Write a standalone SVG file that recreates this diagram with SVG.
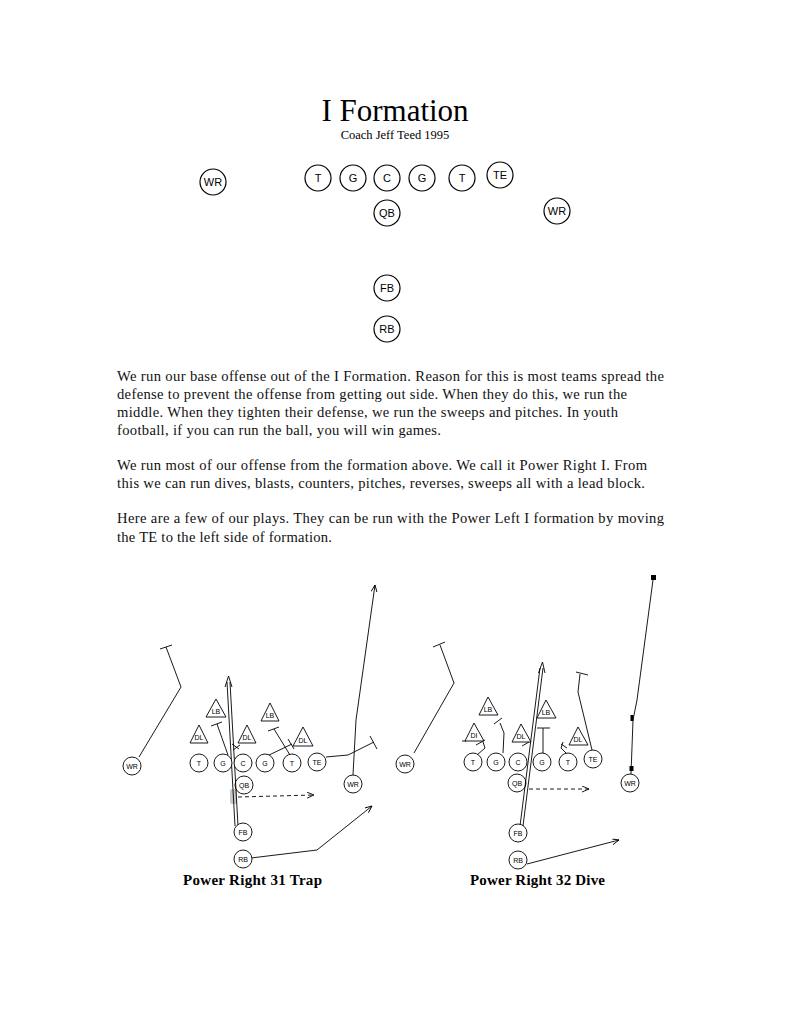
<svg xmlns="http://www.w3.org/2000/svg" width="791" height="1023" viewBox="0 0 791 1023">
<style>
.bg{fill:#fff}
.title{font-family:"Liberation Serif","Times New Roman",serif;fill:#000}
.para{font-family:"Liberation Serif","Times New Roman",serif;font-size:14.6px;fill:#111}
.cap{font-family:"Liberation Serif","Times New Roman",serif;font-size:15px;font-weight:bold;fill:#000}
.pc{fill:#fff;stroke:#000;stroke-width:1.2}
.pl{font-family:"Liberation Sans",Arial,sans-serif;font-size:11px;fill:#000;text-anchor:middle}
.sc{fill:#fff;stroke:#000;stroke-width:0.9}
.sl{font-family:"Liberation Sans",Arial,sans-serif;font-size:7px;fill:#000;text-anchor:middle}
.tri{fill:#fff;stroke:#000;stroke-width:0.9}
.ln{fill:none;stroke:#000;stroke-width:0.9}
.dash{fill:none;stroke:#000;stroke-width:0.9;stroke-dasharray:4 3}
</style>
<defs>
<marker id="arr" markerWidth="8" markerHeight="8" refX="7" refY="3" orient="auto" markerUnits="userSpaceOnUse">
<path d="M0,0 L7,3 L0,6" fill="none" stroke="#000" stroke-width="0.9"/>
</marker>
</defs>
<rect class="bg" x="0" y="0" width="791" height="1023"/>

<text class="title" x="395" y="121" font-family="Liberation Serif, Times New Roman, serif" font-size="31" text-anchor="middle">I Formation</text>
<text class="title" x="395" y="139" font-family="Liberation Serif, Times New Roman, serif" font-size="12.5" text-anchor="middle">Coach Jeff Teed 1995</text>

<g id="top-formation">
<g id="top-wr-left"><circle class="pc" cx="213" cy="182" r="13"/><text class="pl" x="213" y="186" font-size="10">WR</text></g>
<g id="top-t-left"><circle class="pc" cx="318" cy="178" r="13"/><text class="pl" x="318" y="182">T</text></g>
<g id="top-g-left"><circle class="pc" cx="353" cy="178" r="13"/><text class="pl" x="353" y="182">G</text></g>
<g id="top-c"><circle class="pc" cx="387" cy="178" r="13"/><text class="pl" x="387" y="182">C</text></g>
<g id="top-g-right"><circle class="pc" cx="422" cy="178" r="13"/><text class="pl" x="422" y="182">G</text></g>
<g id="top-t-right"><circle class="pc" cx="462" cy="178" r="13"/><text class="pl" x="462" y="182">T</text></g>
<g id="top-te"><circle class="pc" cx="500" cy="175" r="13"/><text class="pl" x="500" y="179">TE</text></g>
<g id="top-qb"><circle class="pc" cx="387" cy="213" r="13"/><text class="pl" x="387" y="217" font-size="10">QB</text></g>
<g id="top-wr-right"><circle class="pc" cx="557" cy="211" r="13"/><text class="pl" x="557" y="215" font-size="10">WR</text></g>
<g id="top-fb"><circle class="pc" cx="387" cy="288" r="13"/><text class="pl" x="387" y="292" font-size="10">FB</text></g>
<g id="top-rb"><circle class="pc" cx="387" cy="329" r="13"/><text class="pl" x="387" y="333" font-size="10">RB</text></g>
</g>

<g id="paragraphs">
<text class="para" x="117" y="381" textLength="547" lengthAdjust="spacing">We run our base offense out of the I Formation. Reason for this is most teams spread the</text>
<text class="para" x="117" y="399" textLength="510" lengthAdjust="spacing">defense to prevent the offense from getting out side. When they do this, we run the</text>
<text class="para" x="117" y="417" textLength="501" lengthAdjust="spacing">middle. When they tighten their defense, we run the sweeps and pitches. In youth</text>
<text class="para" x="117" y="435" textLength="324" lengthAdjust="spacing">football, if you can run the ball, you will win games.</text>
<text class="para" x="117" y="470" textLength="530" lengthAdjust="spacing">We run most of our offense from the formation above. We call it Power Right I. From</text>
<text class="para" x="117" y="488" textLength="528" lengthAdjust="spacing">this we can run dives, blasts, counters, pitches, reverses, sweeps all with a lead block.</text>
<text class="para" x="117" y="523" textLength="547" lengthAdjust="spacing">Here are a few of our plays. They can be run with the Power Left I formation by moving</text>
<text class="para" x="117" y="542" textLength="215" lengthAdjust="spacing">the TE to the left side of formation.</text>
</g>

<!-- PLAY 1 connectors -->
<g id="play1-connectors">
<polyline class="ln" points="139,757 181,687 166,647"/>
<line class="ln" x1="160" y1="649" x2="172" y2="645"/>
<polyline class="ln" points="228,755 217,724"/>
<line class="ln" x1="211" y1="726" x2="222" y2="722"/>
<line class="ln" x1="232" y1="744" x2="239" y2="749"/>
<line class="ln" x1="233" y1="750" x2="240" y2="745"/>
<polyline class="ln" points="267,756 292,744"/>
<line class="ln" x1="288" y1="739" x2="294" y2="749"/>
<polyline class="ln" points="290,755 274,729"/>
<line class="ln" x1="268" y1="731" x2="279" y2="727"/>
<polyline class="ln" points="326,757 348,755 374,742"/>
<line class="ln" x1="370" y1="736" x2="377" y2="749"/>
<polyline class="ln" points="353,775 356,720 375,585" marker-end="url(#arr)"/>
<rect x="230" y="789" width="7" height="15" rx="2" fill="#c8c8c8"/>
<line class="ln" x1="235" y1="826" x2="227" y2="682"/>
<line class="ln" x1="238" y1="826" x2="230" y2="682"/>
<path class="ln" d="M225,687 L228.5,676 L232,687"/>
<line class="dash" x1="238" y1="797" x2="314" y2="795" marker-end="url(#arr)"/>
<polyline class="ln" points="251,858 317,850 372,806" marker-end="url(#arr)"/>
</g>

<g id="play1-defense">
<g id="p1-lb-left"><polygon class="tri" points="216,699 206,717 226,717"/><text class="sl" x="216" y="714">LB</text></g>
<g id="p1-dl-left"><polygon class="tri" points="199,725 190,743 208,743"/><text class="sl" x="199" y="740">DL</text></g>
<g id="p1-dl-mid"><polygon class="tri" points="247,725 238,743 256,743"/><text class="sl" x="247" y="740">DL</text></g>
<g id="p1-lb-right"><polygon class="tri" points="270,703 261,721 279,721"/><text class="sl" x="270" y="718">LB</text></g>
<g id="p1-dl-right"><polygon class="tri" points="303,727 293,746 313,746"/><text class="sl" x="303" y="743">DL</text></g>
</g>

<g id="play1-offense">
<g id="p1-wr-left"><circle class="sc" cx="132" cy="766" r="9"/><text class="sl" x="132" y="768.5">WR</text></g>
<g id="p1-t-left"><circle class="sc" cx="199" cy="763" r="9"/><text class="sl" x="199" y="765.5">T</text></g>
<g id="p1-g-left"><circle class="sc" cx="223" cy="763" r="9"/><text class="sl" x="223" y="765.5">G</text></g>
<g id="p1-c"><circle class="sc" cx="243" cy="763" r="9"/><text class="sl" x="243" y="765.5">C</text></g>
<g id="p1-g-right"><circle class="sc" cx="265" cy="763" r="9"/><text class="sl" x="265" y="765.5">G</text></g>
<g id="p1-t-right"><circle class="sc" cx="292" cy="763" r="9"/><text class="sl" x="292" y="765.5">T</text></g>
<g id="p1-te"><circle class="sc" cx="317" cy="762" r="9"/><text class="sl" x="317" y="764.5">TE</text></g>
<g id="p1-qb"><circle class="sc" cx="244" cy="785" r="9" fill-opacity="0"/><text class="sl" x="244" y="787.5">QB</text></g>
<g id="p1-wr-right"><circle class="sc" cx="353" cy="784" r="9"/><text class="sl" x="353" y="786.5">WR</text></g>
<g id="p1-fb"><circle class="sc" cx="243" cy="832" r="9"/><text class="sl" x="243" y="834.5">FB</text></g>
<g id="p1-rb"><circle class="sc" cx="243" cy="859" r="9"/><text class="sl" x="243" y="861.5">RB</text></g>
</g>
<text class="cap" x="183" y="885" textLength="139" lengthAdjust="spacing">Power Right 31 Trap</text>

<!-- PLAY 2 connectors -->
<g id="play2-connectors">
<polyline class="ln" points="414,753 454,683 440,645"/>
<line class="ln" x1="433" y1="647" x2="445" y2="642"/>
<polyline class="ln" points="477,755 485,748 483,742"/>
<line class="ln" x1="476" y1="745" x2="485" y2="740"/>
<polyline class="ln" points="503,753 504,733 500,723"/>
<line class="ln" x1="494" y1="724" x2="502" y2="718"/>
<line class="ln" x1="522" y1="746" x2="529" y2="742"/>
<line class="ln" x1="543" y1="753" x2="543" y2="728"/>
<line class="ln" x1="537" y1="728" x2="550" y2="728"/>
<polyline class="ln" points="566,753 561,748 563,742"/>
<line class="ln" x1="561" y1="744" x2="567" y2="748"/>
<polyline class="ln" points="592,750 578,692 580,674"/>
<line class="ln" x1="576" y1="672" x2="588" y2="675"/>
<polyline class="ln" points="631,774 633,720 637,700 653,580"/>
<rect x="629.5" y="766" width="4" height="5" fill="#000"/>
<rect x="630.5" y="715" width="3" height="6" fill="#000"/>
<rect x="651" y="575" width="5" height="5" fill="#000"/>
<line class="ln" x1="520" y1="826" x2="540" y2="668"/>
<line class="ln" x1="523" y1="826" x2="543" y2="668"/>
<path class="ln" d="M538.5,673 L542.5,662 L545,673"/>
<line class="dash" x1="529" y1="789" x2="589" y2="789" marker-end="url(#arr)"/>
<line class="ln" x1="527" y1="864" x2="619" y2="840" marker-end="url(#arr)"/>
</g>

<g id="play2-defense">
<g id="p2-lb-left"><polygon class="tri" points="488,697 479,715 498,715"/><text class="sl" x="488" y="712">LB</text></g>
<g id="p2-dl-left"><polygon class="tri" points="474,723 465,741 484,741"/><line class="ln" x1="462" y1="741" x2="466" y2="741"/><text class="sl" x="474" y="738">DI</text></g>
<g id="p2-dl-mid"><polygon class="tri" points="521,724 512,742 531,742"/><text class="sl" x="521" y="739">DL</text></g>
<g id="p2-lb-right"><polygon class="tri" points="546,700 537,718 556,718"/><text class="sl" x="546" y="715">LB</text></g>
<g id="p2-dl-right"><polygon class="tri" points="578,727 569,745 588,745"/><text class="sl" x="578" y="742">DL</text></g>
</g>

<g id="play2-offense">
<g id="p2-wr-left"><circle class="sc" cx="405" cy="764" r="9"/><text class="sl" x="405" y="766.5">WR</text></g>
<g id="p2-t-left"><circle class="sc" cx="473" cy="762" r="9"/><text class="sl" x="473" y="764.5">T</text></g>
<g id="p2-g-left"><circle class="sc" cx="496" cy="762" r="9"/><text class="sl" x="496" y="764.5">G</text></g>
<g id="p2-c"><circle class="sc" cx="518" cy="762" r="9"/><text class="sl" x="518" y="764.5">C</text></g>
<g id="p2-g-right"><circle class="sc" cx="542" cy="762" r="9"/><text class="sl" x="542" y="764.5">G</text></g>
<g id="p2-t-right"><circle class="sc" cx="568" cy="762" r="9"/><text class="sl" x="568" y="764.5">T</text></g>
<g id="p2-te"><circle class="sc" cx="593" cy="759" r="9"/><text class="sl" x="593" y="761.5">TE</text></g>
<g id="p2-qb"><circle class="sc" cx="517" cy="783" r="9" fill-opacity="0"/><text class="sl" x="517" y="785.5">QB</text></g>
<g id="p2-wr-right"><circle class="sc" cx="630" cy="783" r="9"/><text class="sl" x="630" y="785.5">WR</text></g>
<g id="p2-fb"><circle class="sc" cx="518" cy="833" r="9"/><text class="sl" x="518" y="835.5">FB</text></g>
<g id="p2-rb"><circle class="sc" cx="518" cy="860" r="9"/><text class="sl" x="518" y="862.5">RB</text></g>
</g>
<text class="cap" x="470" y="885" textLength="135" lengthAdjust="spacing">Power Right 32 Dive</text>
</svg>
